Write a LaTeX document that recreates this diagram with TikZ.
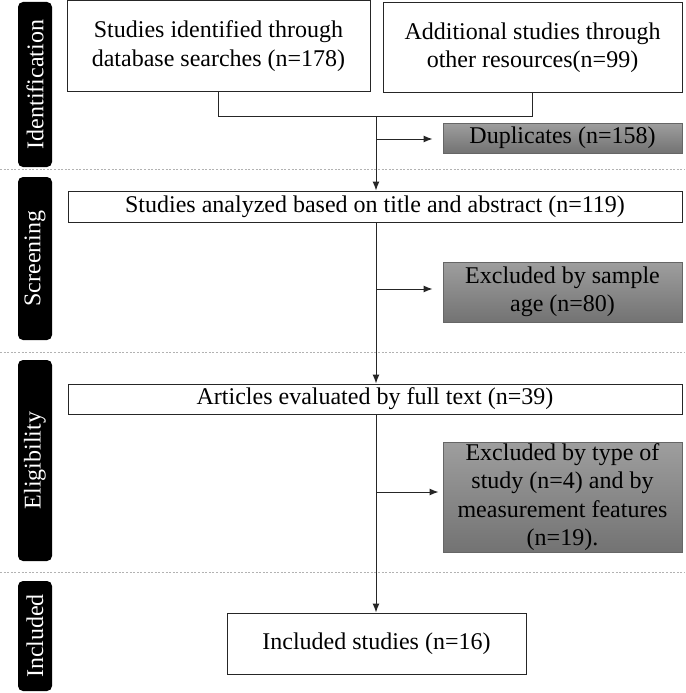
\documentclass[tikz,border=0pt]{standalone}
\usepackage{fontspec}
\setmainfont{Liberation Serif}
\usetikzlibrary{arrows.meta,calc}
\begin{document}
\begin{tikzpicture}[x=1pt,y=-1pt,
  txt/.style={font=\fontsize{24}{28.5}\selectfont},
  wbox/.style={txt,draw=black!85,line width=1pt,fill=white,inner sep=0pt,align=center},
  gbox/.style={txt,draw=black!60,line width=1pt,top color=black!38,bottom color=black!55,inner sep=0pt,align=center},
  phase/.style={font=\fontsize{24}{28}\selectfont,text=white,fill=black,rounded corners=5pt,rotate=90,inner sep=0pt,minimum height=34pt},
  sep/.style={draw=black!30,line width=0.8pt,dash pattern=on 2pt off 1.6pt},
  arr/.style={draw=black!85,line width=1pt,-{Latex[length=9pt,width=7pt]}},
  ln/.style={draw=black!85,line width=1pt}]
\useasboundingbox (0,0) rectangle (685,693);
% separators
\draw[sep] (0,169) -- (685,169);
\draw[sep] (0,352) -- (685,352);
\draw[sep] (0,572) -- (685,572);
% phase labels
\node[phase,minimum width=165pt] (pid) at (35,84.5) {Identification};
\node[phase,minimum width=163pt] (psc) at (35,258.5) {Screening};
\node[phase,minimum width=201pt] (pel) at (35,460.5) {Eligibility};
\node[phase,minimum width=110pt] (pin) at (35,636) {Included};
% boxes
\node[wbox,minimum width=303pt,minimum height=90pt] (b1) at (218.5,46) {Studies identified through\\database searches (n=178)};
\node[wbox,minimum width=299pt,minimum height=89pt] (b2) at (532.5,47.5) {Additional studies through\\other resources(n=99)};
\node[gbox,minimum width=239pt,minimum height=30pt] (dup) at (562.5,138) {Duplicates (n=158)};
\node[wbox,minimum width=614pt,minimum height=31pt] (scr) at (375,206.5) {Studies analyzed based on title and abstract (n=119)};
\node[gbox,minimum width=239pt,minimum height=60pt] (age) at (562.5,292) {Excluded by sample\\age (n=80)};
\node[wbox,minimum width=614pt,minimum height=30pt] (art) at (375,399) {Articles evaluated by full text (n=39)};
\node[gbox,minimum width=239pt,minimum height=110pt] (typ) at (562.5,497) {Excluded by type of\\study (n=4) and by\\measurement features\\(n=19).};
\node[wbox,minimum width=299pt,minimum height=61pt] (inc) at (376.5,643.5) {Included studies (n=16)};
% connectors
\coordinate (j) at (376,116);
\draw[ln] (b1.south) |- (b2.south |- j) -- (b2.south);
\draw[arr] (j) -- (j |- scr.north);
\draw[arr] (j |- scr.south) -- (j |- art.north);
\draw[arr] (j |- art.south) -- (j |- inc.north);
\coordinate (t1) at (376,139);
\coordinate (t2) at (376,289);
\coordinate (t3) at (376,492);
\draw[arr] (t1) -- ($(t1 -| dup.west)+(-10,0)$);
\draw[arr] (t2) -- ($(t2 -| age.west)+(-10,0)$);
\draw[arr] (t3) -- ($(t3 -| typ.west)+(-4,0)$);
\end{tikzpicture}
\end{document}
